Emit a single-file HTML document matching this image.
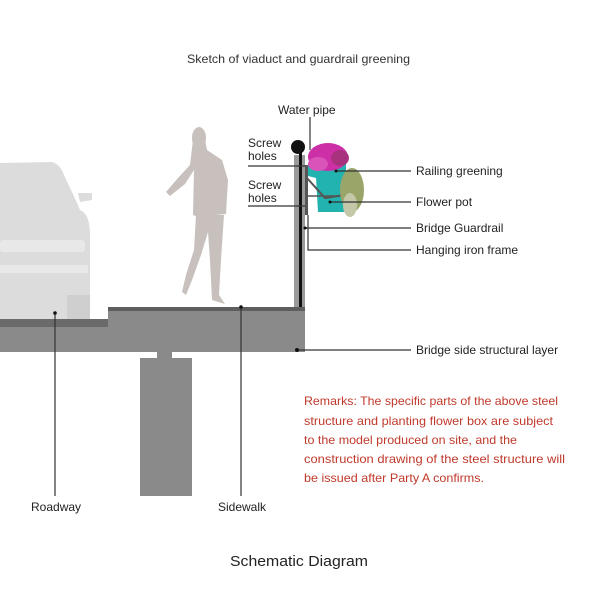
<!DOCTYPE html>
<html><head><meta charset="utf-8"><style>
html,body{margin:0;padding:0;background:#fff;width:600px;height:600px;overflow:hidden}
text{font-family:"Liberation Sans",sans-serif}
</style></head><body>
<svg width="600" height="600" viewBox="0 0 600 600" xmlns="http://www.w3.org/2000/svg">
<rect width="600" height="600" fill="#fff"/>
<text x="187" y="63" font-size="12" fill="#333" textLength="223" lengthAdjust="spacingAndGlyphs">Sketch of viaduct and guardrail greening</text>

<!-- car -->
<g fill="#dcdcdc">
<path d="M0,163 L52,162 Q60,164 64,175 L78,205 L80,210 Q90,214 90,235 L90,295 L67,295 L67,320 L0,320 Z"/>
<path d="M78,193 L92,193 L92,200 L80,202 Z"/>
</g>
<g fill="#e8e8e8">
<rect x="0" y="240" width="85" height="12" rx="3"/>
<rect x="0" y="265" width="88" height="8"/>
</g>
<rect x="67" y="295" width="23" height="25" fill="#cfcfcf"/>

<!-- woman -->
<g fill="#c7c0bd">
<ellipse cx="199" cy="138" rx="7" ry="11"/>
<path d="M193,140 L190,165 L178,178 L166,192 L170,196 L185,184 L194,170 L193,215 L205,220 L210,215 L215,215 L226,214 L228,180 L222,160 L207,150 L205,140 Z"/>
<path d="M196,215 L194,250 L186,275 L182,292 L186,295 L192,280 L201,255 L208,232 L210,260 L212,300 L225,304 L219,295 L221,260 L224,215 Z"/>
</g>

<!-- deck -->
<rect x="0" y="327" width="305" height="25" fill="#8a8a8a"/>
<rect x="0" y="319" width="108" height="8" fill="#6a6a6a"/>
<rect x="108" y="307" width="197" height="20" fill="#8a8a8a"/>
<rect x="108" y="307" width="197" height="4" fill="#5e5e5e"/>
<rect x="157" y="352" width="15" height="6" fill="#8a8a8a"/>
<rect x="140" y="358" width="52" height="138" fill="#8a8a8a"/>

<!-- guardrail -->
<rect x="294" y="155" width="11" height="152" fill="#9a9a9a"/>
<rect x="299" y="150" width="3" height="157" fill="#111"/>
<circle cx="298" cy="147" r="7" fill="#111"/>
<rect x="305" y="165" width="3" height="50" fill="#555"/>
<rect x="305" y="228" width="2" height="1" fill="#333"/>

<!-- flower pot -->
<path d="M308,163 L346,163 L346,207 L345,212 L318,212 L316,178 L308,176 Z" fill="#22b3b0"/>
<path d="M307,178 L325,198 L345,195" stroke="#555" stroke-width="2" fill="none"/>
<path d="M307,196 L340,196" stroke="#555" stroke-width="1.5"/>
<ellipse cx="352" cy="190" rx="12" ry="22" fill="#9aa56a"/>
<ellipse cx="350" cy="205" rx="7" ry="12" fill="#c4c8a8"/>
<ellipse cx="328" cy="157" rx="20" ry="14" fill="#cc2fa6"/>
<ellipse cx="318" cy="164" rx="10" ry="7" fill="#d953b8"/>
<ellipse cx="340" cy="158" rx="9" ry="8" fill="#a8327e"/>

<!-- leaders -->
<g stroke="#333" stroke-width="1.2" fill="none">
<line x1="310" y1="117" x2="310" y2="150"/>
<line x1="248" y1="166" x2="305" y2="166"/>
<line x1="248" y1="206" x2="305" y2="206"/>
<line x1="336" y1="171" x2="411" y2="171"/>
<line x1="330" y1="202" x2="411" y2="202"/>
<line x1="305" y1="228" x2="411" y2="228"/>
<polyline points="308,215 308,250 411,250"/>
<line x1="297" y1="350" x2="411" y2="350"/>
<line x1="55" y1="313" x2="55" y2="496"/>
<line x1="241" y1="307" x2="241" y2="496"/>
</g>
<g fill="#111">
<circle cx="55" cy="313" r="1.8"/><circle cx="241" cy="307" r="1.8"/><circle cx="297" cy="350" r="2"/>
<circle cx="336" cy="171" r="1.5"/><circle cx="330" cy="202" r="1.5"/><circle cx="305" cy="228" r="1.5"/>
</g>

<g font-size="12" fill="#222">
<text x="278" y="114">Water pipe</text>
<text x="248" y="147">Screw</text><text x="248" y="160">holes</text>
<text x="248" y="189">Screw</text><text x="248" y="202">holes</text>
<text x="416" y="175">Railing greening</text>
<text x="416" y="206">Flower pot</text>
<text x="416" y="232">Bridge Guardrail</text>
<text x="416" y="254">Hanging iron frame</text>
<text x="416" y="354">Bridge side structural layer</text>
<text x="31" y="511">Roadway</text>
<text x="218" y="511">Sidewalk</text>
</g>

<g font-size="12" fill="#c0392b">
<text x="304" y="405" textLength="254" lengthAdjust="spacingAndGlyphs">Remarks: The specific parts of the above steel</text>
<text x="304" y="425" textLength="249" lengthAdjust="spacingAndGlyphs">structure and planting flower box are subject</text>
<text x="304" y="444" textLength="213" lengthAdjust="spacingAndGlyphs">to the model produced on site, and the</text>
<text x="304" y="463" textLength="261" lengthAdjust="spacingAndGlyphs">construction drawing of the steel structure will</text>
<text x="304" y="482" textLength="180" lengthAdjust="spacingAndGlyphs">be issued after Party A confirms.</text>
</g>

<text x="230" y="566" font-size="15" fill="#222" textLength="138" lengthAdjust="spacingAndGlyphs">Schematic Diagram</text>
</svg>
</body></html>
